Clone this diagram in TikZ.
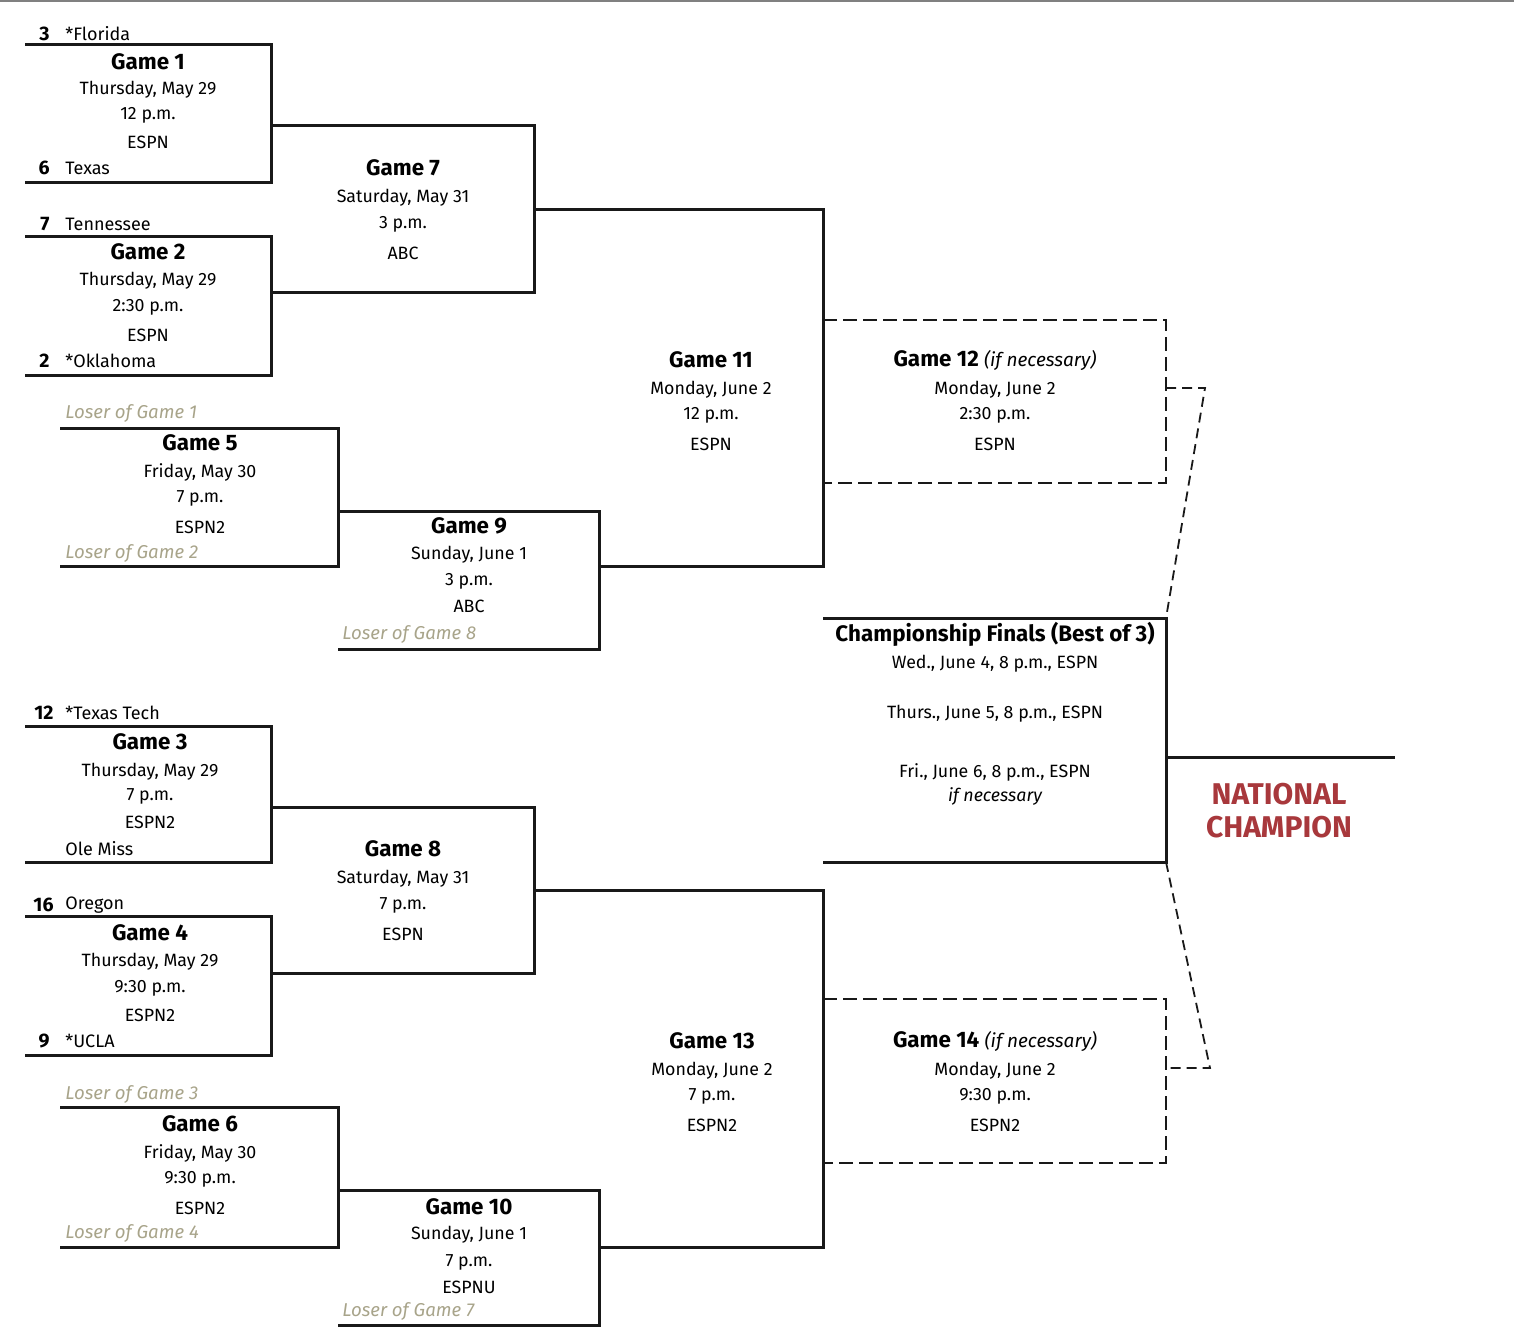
\documentclass[tikz,border=0pt]{standalone}
\usepackage{fontspec}
\setmainfont{Fira Sans}
\begin{document}
\begin{tikzpicture}[x=0.5pt,y=-0.5pt,
  br/.style={line width=1.5pt,black!90},
  dbr/.style={line width=1.4pt,black!90,dash pattern=on 7pt off 3pt},
  dl/.style={line width=0.9pt,black!90,dash pattern=on 5pt off 3pt},
  ttl/.style={font=\fontsize{11.2}{12}\selectfont\bfseries,inner sep=0pt},
  inf/.style={font=\fontsize{8.9}{10}\selectfont,inner sep=0pt},
  seed/.style={font=\fontsize{9.8}{10}\selectfont\bfseries,anchor=east,inner sep=0pt},
  team/.style={font=\fontsize{9}{10}\selectfont,anchor=west,inner sep=0pt},
  los/.style={font=\fontsize{9.3}{10}\selectfont\itshape,anchor=west,inner sep=0pt,text=lsc},
  nc/.style={font=\fontsize{15}{16}\selectfont\bfseries,text=ncr,inner sep=0pt}]
\definecolor{lsc}{HTML}{A8A48A}
\definecolor{ncr}{HTML}{A8383C}
\useasboundingbox (0,0) rectangle (1514,1338);
\draw[gray,line width=0.6pt] (0,1) -- (1514,1);
% brackets
\draw[br] (25,45) -| (271,182) -- (25,182);
\draw[br] (25,236) -| (271,375) -- (25,375);
\draw[br] (271,126) -| (534,292) -- (271,292);
\draw[br] (534,209) -| (823,566) -- (599,566);
\draw[br] (60,428) -| (338,566) -- (60,566);
\draw[br] (338,511) -| (599,649) -- (338,649);
\draw[dbr] (823,320) -| (1166,483) -- (823,483);
\draw[br] (823,618) -| (1166,862) -- (823,862);
\draw[br] (1166,757) -- (1395,757);
\draw[dl] (1166,388) -- (1205,388) -- (1166,618);
\draw[dl] (1166,862) -- (1210,1068) -- (1166,1068);
\draw[dbr] (823,999) -| (1166,1163) -- (823,1163);
\draw[br] (534,890) -| (823,1247) -- (599,1247);
\draw[br] (271,807) -| (534,973) -- (271,973);
\draw[br] (25,726) -| (271,862) -- (25,862);
\draw[br] (25,916) -| (271,1055) -- (25,1055);
\draw[br] (60,1107) -| (338,1247) -- (60,1247);
\draw[br] (338,1190) -| (599,1325) -- (338,1325);
% Game 1
\node[seed] (s1) at (50,34) {3}; \node[team] (t1) at (65,34) {*Florida};
\node[ttl] (g1) at (148,62) {Game 1};
\node[inf] (g1a) at (148,90) {Thursday, May 29};
\node[inf] (g1b) at (148,115) {12 p.m.};
\node[inf] (g1c) at (148,142) {ESPN};
\node[seed] (s2) at (50,168) {6}; \node[team] (t2) at (65,168) {Texas};
% Game 2
\node[seed] (s3) at (50,224) {7}; \node[team] (t3) at (65,224) {Tennessee};
\node[ttl] (g2) at (148,252) {Game 2};
\node[inf] (g2a) at (148,281) {Thursday, May 29};
\node[inf] (g2b) at (148,307) {2:30 p.m.};
\node[inf] (g2c) at (148,335) {ESPN};
\node[seed] (s4) at (50,361) {2}; \node[team] (t4) at (65,361) {*Oklahoma};
% Game 7
\node[ttl] (g7) at (403,168) {Game 7};
\node[inf] (g7a) at (403,198) {Saturday, May 31};
\node[inf] (g7b) at (403,224) {3 p.m.};
\node[inf] (g7c) at (403,253) {ABC};
% Game 5
\node[los] (l1) at (65,414) {Loser of Game 1};
\node[ttl] (g5) at (200,443) {Game 5};
\node[inf] (g5a) at (200,472) {Friday, May 30};
\node[inf] (g5b) at (200,498) {7 p.m.};
\node[inf] (g5c) at (200,527) {ESPN2};
\node[los] (l2) at (65,553) {Loser of Game 2};
% Game 9
\node[ttl] (g9) at (469,526) {Game 9};
\node[inf] (g9a) at (469,555) {Sunday, June 1};
\node[inf] (g9b) at (469,581) {3 p.m.};
\node[inf] (g9c) at (469,606) {ABC};
\node[los] (l8) at (342,634) {Loser of Game 8};
% Game 11
\node[ttl] (g11) at (711,360) {Game 11};
\node[inf] (g11a) at (711,390) {Monday, June 2};
\node[inf] (g11b) at (711,415) {12 p.m.};
\node[inf] (g11c) at (711,444) {ESPN};
% Game 12
\node[ttl] (g12) at (995,360) {Game 12 {\mdseries\itshape\fontsize{9.5}{10}\selectfont(if necessary)}};
\node[inf] (g12a) at (995,390) {Monday, June 2};
\node[inf] (g12b) at (995,415) {2:30 p.m.};
\node[inf] (g12c) at (995,444) {ESPN};
% Championship
\node[ttl] (ch) at (995,634) {Championship Finals (Best of 3)};
\node[inf] (ch1) at (995,664) {Wed., June 4, 8 p.m., ESPN};
\node[inf] (ch2) at (995,714) {Thurs., June 5, 8 p.m., ESPN};
\node[inf] (ch3) at (995,772) {Fri., June 6, 8 p.m., ESPN};
\node[inf,font=\fontsize{8.9}{10}\selectfont\itshape] (ch4) at (995,796) {if necessary};
\node[nc] (nc1) at (1279,794) {NATIONAL};
\node[nc] (nc2) at (1279,827) {CHAMPION};
% Game 3
\node[seed] (s5) at (54,713) {12}; \node[team] (t5) at (65,713) {*Texas Tech};
\node[ttl] (g3) at (150,742) {Game 3};
\node[inf] (g3a) at (150,772) {Thursday, May 29};
\node[inf] (g3b) at (150,796) {7 p.m.};
\node[inf] (g3c) at (150,822) {ESPN2};
\node[team] (t6) at (65,849) {Ole Miss};
% Game 4
\node[seed] (s7) at (54,905) {16}; \node[team] (t7) at (65,905) {Oregon};
\node[ttl] (g4) at (150,933) {Game 4};
\node[inf] (g4a) at (150,962) {Thursday, May 29};
\node[inf] (g4b) at (150,988) {9:30 p.m.};
\node[inf] (g4c) at (150,1015) {ESPN2};
\node[seed] (s8) at (50,1041) {9}; \node[team] (t8) at (65,1041) {*UCLA};
% Game 8
\node[ttl] (g8) at (403,849) {Game 8};
\node[inf] (g8a) at (403,879) {Saturday, May 31};
\node[inf] (g8b) at (403,905) {7 p.m.};
\node[inf] (g8c) at (403,934) {ESPN};
% Game 6
\node[los] (l3) at (65,1094) {Loser of Game 3};
\node[ttl] (g6) at (200,1124) {Game 6};
\node[inf] (g6a) at (200,1153) {Friday, May 30};
\node[inf] (g6b) at (200,1179) {9:30 p.m.};
\node[inf] (g6c) at (200,1208) {ESPN2};
\node[los] (l4) at (65,1233) {Loser of Game 4};
% Game 10
\node[ttl] (g10) at (469,1207) {Game 10};
\node[inf] (g10a) at (469,1235) {Sunday, June 1};
\node[inf] (g10b) at (469,1262) {7 p.m.};
\node[inf] (g10c) at (469,1287) {ESPNU};
\node[los] (l7) at (342,1311) {Loser of Game 7};
% Game 13
\node[ttl] (g13) at (712,1041) {Game 13};
\node[inf] (g13a) at (712,1071) {Monday, June 2};
\node[inf] (g13b) at (712,1096) {7 p.m.};
\node[inf] (g13c) at (712,1125) {ESPN2};
% Game 14
\node[ttl] (g14) at (995,1041) {Game 14 {\mdseries\itshape\fontsize{9.5}{10}\selectfont(if necessary)}};
\node[inf] (g14a) at (995,1071) {Monday, June 2};
\node[inf] (g14b) at (995,1096) {9:30 p.m.};
\node[inf] (g14c) at (995,1125) {ESPN2};
\end{tikzpicture}
\end{document}
